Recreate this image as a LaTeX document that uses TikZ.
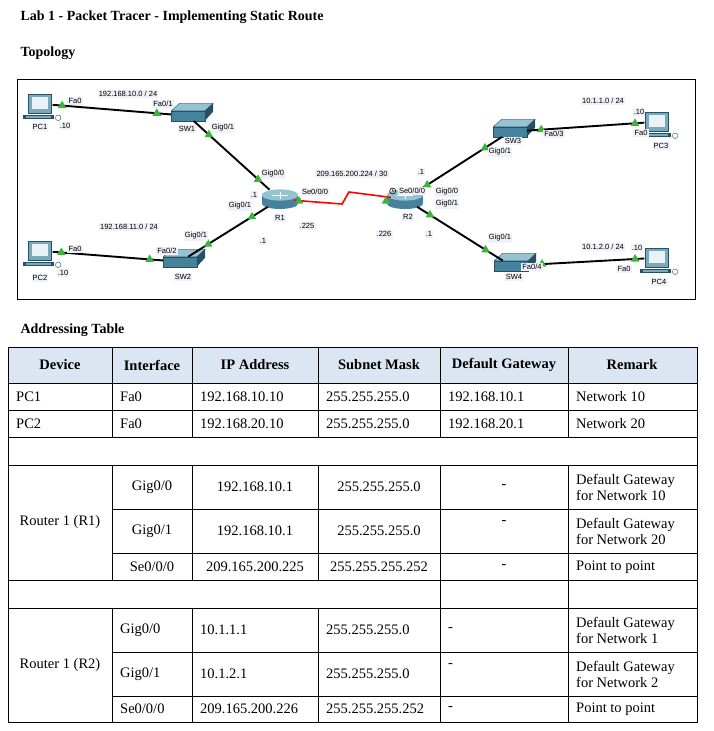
\documentclass[tikz,border=0pt]{standalone}
\usepackage{fontspec}
\setmainfont{Liberation Serif}
\setsansfont{Liberation Sans}
\usetikzlibrary{shapes.geometric}
\usetikzlibrary{calc}

\definecolor{pcfill}{RGB}{120,170,190}
\definecolor{pcedge}{RGB}{40,80,100}
\definecolor{swfill}{RGB}{70,130,155}
\definecolor{swtop}{RGB}{150,195,210}
\definecolor{lblbg}{RGB}{240,240,248}
\definecolor{tri}{RGB}{60,180,60}
\definecolor{headbg}{RGB}{220,230,242}

\tikzset{
    lbl/.style={font=\sffamily\fontsize{7.5}{8}\selectfont, fill=lblbg, inner sep=1.2pt},
    link/.style={line width=1.9pt, black},
    serial/.style={line width=1.6pt, red},
    tri/.style={regular polygon, regular polygon sides=3, fill=tri, inner sep=0pt, minimum size=10pt},
    dev/.style={scale=1.4, transform shape},
    cell/.style={font=\fontsize{14.5}{15}\selectfont, inner sep=0pt},
    mcell/.style={cell, align=left, font=\fontsize{14.5}{16}\selectfont},
    head/.style={cell, font=\bfseries\fontsize{14.5}{15}\selectfont},
    grid/.style={line width=0.6pt},
    pc/.pic={
        \node[draw=pcedge, fill=pcfill, line width=1pt, minimum width=17pt, minimum height=14pt, inner sep=0pt] (-c) at (0,-3) {};
        \fill[white!85!pcfill] (-6,-8) rectangle (6,1);
        \fill[pcedge] (-12,5) rectangle (10,8);
        \fill[pcfill] (-10,5.5) rectangle (8,7);
        \draw[pcedge] (13,7) circle (2);
    },
    switchpic/.pic={
        \node[draw=pcedge, fill=swfill, minimum width=24pt, minimum height=7pt, inner sep=0pt] (-c) at (0,2) {};
        \fill[swtop, draw=pcedge] (-12,-1.5) -- (-6,-7) -- (18,-7) -- (12,-1.5) -- cycle;
        \fill[pcedge] (12,-1.5) -- (18,-7) -- (18,-1) -- (12,5.5) -- cycle;
    },
    routerpic/.pic={
        \fill[swfill] (-13,0) rectangle (13,6);
        \fill[swfill] (0,6) ellipse (13pt and 4pt);
        \fill[swtop] (0,0) ellipse (13pt and 4pt);
        \draw[white, line width=0.6pt] (-6,0) -- (6,0) (0,-2.5) -- (0,2.5);
        \node[circle, minimum size=20pt, inner sep=0pt] (-c) at (0,3) {};
    },
}

\begin{document}
\begin{tikzpicture}[x=1pt, y=-1pt]
    \useasboundingbox (0,0) rectangle (714,731);

    % headings
    \node[anchor=west, font=\bfseries\fontsize{14}{15}\selectfont] (title) at (17,17) {Lab 1 - Packet Tracer - Implementing Static Route};
    \node[anchor=west, font=\bfseries\fontsize{14}{15}\selectfont] (topo) at (17,53) {Topology};
    \node[anchor=west, font=\bfseries\fontsize{14}{15}\selectfont] (addr) at (17,330) {Addressing Table};

    % topology frame
    \draw[line width=1pt] (17,79) rectangle (695,299);

    % devices
    \pic[dev] (pc1) at (40,108) {pc};
    \pic[dev] (pc2) at (40,255) {pc};
    \pic[dev] (pc3) at (657,126) {pc};
    \pic[dev] (pc4) at (657,262) {pc};
    \pic[dev] (sw1) at (188,113) {switchpic};
    \pic[dev] (sw2) at (180,259) {switchpic};
    \pic[dev] (sw3) at (510,129) {switchpic};
    \pic[dev] (sw4) at (511,263) {switchpic};
    \pic[dev] (r1) at (280,195) {routerpic};
    \pic[dev] (r2) at (405,195) {routerpic};

    % links
    \draw[link] (pc1-c) -- node[tri, pos=0.08]{} node[tri, pos=0.88]{} (sw1-c);
    \draw[link] (sw1-c) -- node[tri, pos=0.2]{} node[tri, pos=0.85]{} (r1-c);
    \draw[link] (r1-c) -- node[tri, pos=0.2]{} node[tri, pos=0.75]{} (sw2-c);
    \draw[link] (sw2-c) -- node[tri, pos=0.12]{} node[tri, pos=0.92]{} (pc2-c);
    \draw[link] (r2-c) -- node[tri, pos=0.12]{} node[tri, pos=0.8]{} (sw3-c);
    \draw[link] (sw3-c) -- node[tri, pos=0.12]{} node[tri, pos=0.92]{} (pc3-c);
    \draw[link] (r2-c) -- node[tri, pos=0.15]{} node[tri, pos=0.8]{} (sw4-c);
    \draw[link] (sw4-c) -- node[tri, pos=0.12]{} node[tri, pos=0.92]{} (pc4-c);
    \coordinate (zz1) at (342,204);
    \coordinate (zz2) at (349,192);
    \draw[serial] (r1-c) -- (zz1) -- (zz2) -- (r2-c);
    \node[tri] (t1) at (299,201) {};
    \node[tri] (t2) at (386,201) {};

    % labels
    \node[lbl] at (75,101) {Fa0};
    \node[lbl] at (65,126) {.10};
    \node[lbl] at (40,127) {PC1};
    \node[lbl] at (128,94) {192.168.10.0 / 24};
    \node[lbl] at (163,104) {Fa0/1};
    \node[lbl] at (187,129) {SW1};
    \node[lbl] at (223,128) {Gig0/1};
    \node[lbl] at (273,174) {Gig0/0};
    \node[lbl] at (254,195) {.1};
    \node[lbl] at (240,206) {Gig0/1};
    \node[lbl] at (280,218) {R1};
    \node[lbl] at (315,192) {Se0/0/0};
    \node[lbl] at (307,226) {.225};
    \node[lbl] at (263,241) {.1};
    \node[lbl] at (129,227) {192.168.11.0 / 24};
    \node[lbl] at (196,236) {Gig0/1};
    \node[lbl] at (167,251) {Fa0/2};
    \node[lbl] at (183,277) {SW2};
    \node[lbl] at (75,249) {Fa0};
    \node[lbl] at (63,273) {.10};
    \node[lbl] at (40,278) {PC2};
    \node[lbl] at (352,174) {209.165.200.224 / 30};
    \node[lbl] (se2) at (412,191) {Se0/0/0};
    \draw[line width=0.6pt] ([xshift=-5pt]se2.west) circle (3) ++(0,-2) -- ++(0,2) -- ++(1.5,0);
    \node[lbl] at (447,192) {Gig0/0};
    \node[lbl] at (447,204) {Gig0/1};
    \node[lbl] at (421,172) {.1};
    \node[lbl] at (408,217) {R2};
    \node[lbl] at (384,234) {.226};
    \node[lbl] at (429,234) {.1};
    \node[lbl] at (513,141) {SW3};
    \node[lbl] at (500,152) {Gig0/1};
    \node[lbl] at (554,134) {Fa0/3};
    \node[lbl] at (603,101) {10.1.1.0 / 24};
    \node[lbl] at (639,112) {.10};
    \node[lbl] at (641,133) {Fa0};
    \node[lbl] at (661,146) {PC3};
    \node[lbl] at (500,238) {Gig0/1};
    \node[lbl] at (532,267) {Fa0/4};
    \node[lbl] at (514,277) {SW4};
    \node[lbl] at (603,247) {10.1.2.0 / 24};
    \node[lbl] at (637,248) {.10};
    \node[lbl] at (624,269) {Fa0};
    \node[lbl] at (659,282) {PC4};

    % table
    \fill[headbg] (8,347) rectangle (697,383);
    \draw[grid] (8,347) rectangle (697,722);
    \foreach \y in {383,410,437,465,580,608} \draw[grid] (8,\y) -- (697,\y);
    \foreach \y in {509,553,652,696} \draw[grid] (112,\y) -- (697,\y);
    \foreach \x in {112,192,318,440,568} {
        \draw[grid] (\x,347) -- (\x,437);
        \draw[grid] (\x,465) -- (\x,580);
        \draw[grid] (\x,608) -- (\x,722);
    }
    \foreach \x in {440,568} \draw[grid] (\x,580) -- (\x,608);

    \foreach \x/\t in {60/Device, 152/Interface, 255/IP Address, 379/Subnet Mask, 504/Default Gateway, 632/Remark}
        \node[head] at (\x,365) {\t};

    \foreach \y/\d/\i/\ip/\m/\g/\r in {397/PC1/Fa0/192.168.10.10/255.255.255.0/192.168.10.1/Network 10,
                                       424/PC2/Fa0/192.168.20.10/255.255.255.0/192.168.20.1/Network 20} {
        \node[cell, anchor=west] at (16,\y) {\d};
        \node[cell, anchor=west] at (120,\y) {\i};
        \node[cell, anchor=west] at (200,\y) {\ip};
        \node[cell, anchor=west] at (326,\y) {\m};
        \node[cell, anchor=west] at (448,\y) {\g};
        \node[cell, anchor=west] at (576,\y) {\r};
    }

    \node[cell] (r1name) at (60,522) {Router 1 (R1)};
    \node[cell] at (152,487) {Gig0/0};
    \node[cell] at (255,487) {192.168.10.1};
    \node[cell] at (379,487) {255.255.255.0};
    \node[cell] at (504,487) {-};
    \node[mcell, anchor=west] at (576,487) {Default Gateway\\for Network 10};
    \node[cell] at (152,531) {Gig0/1};
    \node[cell] at (255,531) {192.168.10.1};
    \node[cell] at (379,531) {255.255.255.0};
    \node[cell] at (504,523) {-};
    \node[mcell, anchor=west] at (576,531) {Default Gateway\\for Network 20};
    \node[cell] at (152,567) {Se0/0/0};
    \node[cell] at (255,567) {209.165.200.225};
    \node[cell] at (379,567) {255.255.255.252};
    \node[cell] at (504,567) {-};
    \node[cell, anchor=west] at (576,567) {Point to point};

    \node[cell] (r2name) at (60,665) {Router 1 (R2)};
    \node[cell, anchor=west] at (120,630) {Gig0/0};
    \node[cell, anchor=west] at (200,630) {10.1.1.1};
    \node[cell, anchor=west] at (326,630) {255.255.255.0};
    \node[cell, anchor=west] at (448,630) {-};
    \node[mcell, anchor=west] at (576,630) {Default Gateway\\for Network 1};
    \node[cell, anchor=west] at (120,674) {Gig0/1};
    \node[cell, anchor=west] at (200,674) {10.1.2.1};
    \node[cell, anchor=west] at (326,674) {255.255.255.0};
    \node[cell, anchor=west] at (448,666) {-};
    \node[mcell, anchor=west] at (576,674) {Default Gateway\\for Network 2};
    \node[cell, anchor=west] at (120,709) {Se0/0/0};
    \node[cell, anchor=west] at (200,709) {209.165.200.226};
    \node[cell, anchor=west] at (326,709) {255.255.255.252};
    \node[cell, anchor=west] at (448,709) {-};
    \node[cell, anchor=west] at (576,709) {Point to point};
\end{tikzpicture}
\end{document}
